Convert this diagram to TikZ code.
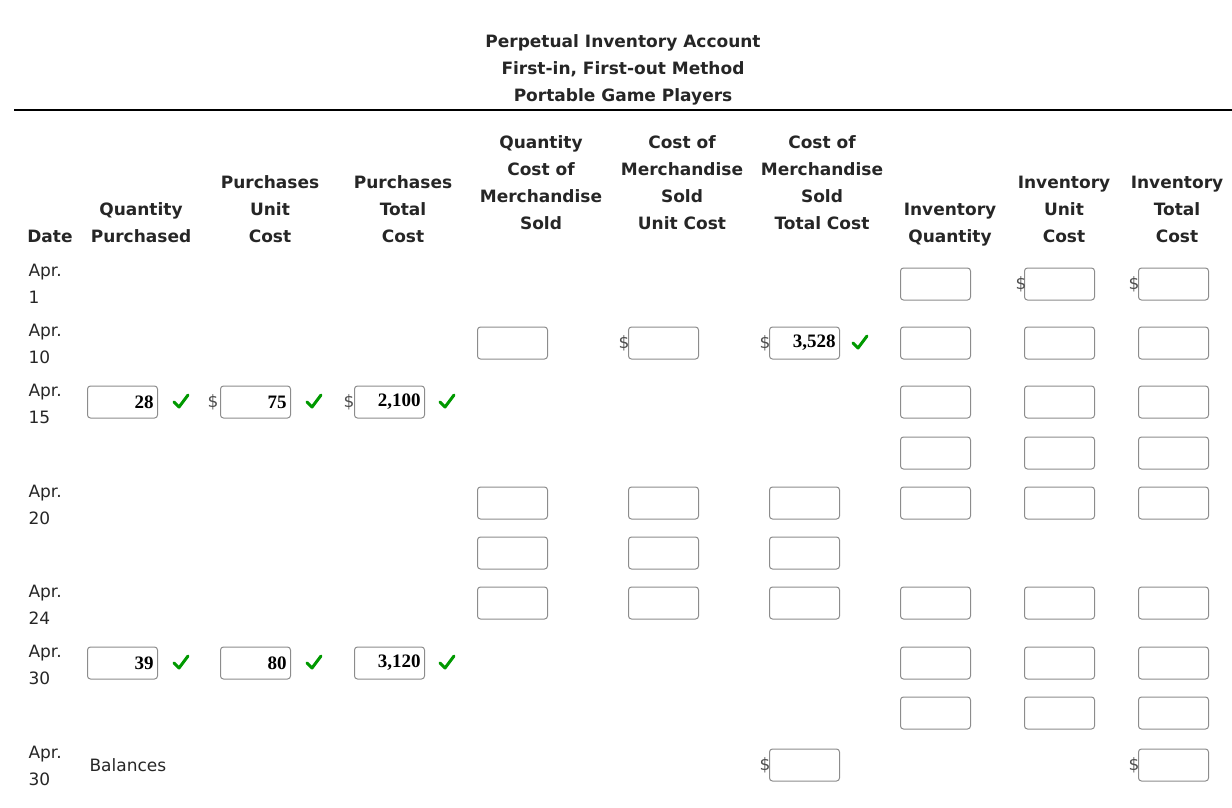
\documentclass[tikz,border=0pt]{standalone}
\usepackage{fontspec}
\setmainfont{DejaVu Sans}
\newfontfamily\numfont{Liberation Serif}
\begin{document}
\begin{tikzpicture}[x=1pt,y=-1pt,
  hd/.style={font=\fontsize{17}{20}\selectfont\bfseries,color=black!85,align=center,anchor=base},
  lb/.style={font=\fontsize{17}{20}\selectfont,color=black!85,anchor=base west},
  ibox/.style={draw=black!45,line width=1pt,rounded corners=3pt,minimum width=70,minimum height=32,inner sep=0,font=\numfont\bfseries\fontsize{19}{22}\selectfont,align=right},
  dol/.style={font=\fontsize{17}{20}\selectfont,color=black!70},
  ok/.style={draw=green!60!black,line width=3pt,line cap=round,line join=round}]
\useasboundingbox (0,0) rectangle (1232,807);
\node[hd] (t1) at (623,47) {Perpetual Inventory Account};
\node[hd] (t2) at (623,74) {First-in, First-out Method};
\node[hd] (t3) at (623,101) {Portable Game Players};
\coordinate (l1) at (14,110); \coordinate (l2) at (1232,110);
\draw[line width=2.5pt] (l1) -- (l2);
% headers
\node[hd] (hdate) at (50,242) {Date};
\node[hd] (h1a) at (141,215) {Quantity}; \node[hd] (h1b) at (141,242) {Purchased};
\foreach \x/\n/\w in {270/h2/Unit,403/h3/Total,1064/h8/Unit,1177/h9/Total}{
  \node[hd] (\n b) at (\x,215) {\w}; \node[hd] (\n c) at (\x,242) {Cost};}
\node[hd] (h2a) at (270,188) {Purchases}; \node[hd] (h3a) at (403,188) {Purchases};
\node[hd] (h8a) at (1064,188) {Inventory}; \node[hd] (h9a) at (1177,188) {Inventory};
\node[hd] (h4a) at (541,148) {Quantity}; \node[hd] (h4b) at (541,175) {Cost of};
\node[hd] (h4c) at (541,202) {Merchandise}; \node[hd] (h4d) at (541,229) {Sold};
\node[hd] (h5a) at (682,148) {Cost of}; \node[hd] (h5b) at (682,175) {Merchandise};
\node[hd] (h5c) at (682,202) {Sold}; \node[hd] (h5d) at (682,229) {Unit Cost};
\node[hd] (h6a) at (822,148) {Cost of}; \node[hd] (h6b) at (822,175) {Merchandise};
\node[hd] (h6c) at (822,202) {Sold}; \node[hd] (h6d) at (822,229) {Total Cost};
\node[hd] (h7a) at (950,215) {Inventory}; \node[hd] (h7b) at (950,242) {Quantity};
% row labels
\foreach \y/\d/\n in {270/1/r1,330/10/r2,390/15/r3,491/20/r4,591/24/r5,651/30/r6,752/30/r7}{
  \node[lb] (\n a) at (25,\y+6) {Apr.}; \node[lb] (\n b) at (25,\y+33) {\d};}
\node[lb] (bal) at (86,771) {Balances};
% boxes: column x centers
\def\ca{122.5}\def\cb{255.5}\def\cc{389.5}\def\cd{512.5}\def\ce{663.5}\def\cf{804.5}\def\cg{935.5}\def\ch{1059.5}\def\ci{1173.5}
\foreach \x/\y/\n in {\cg/284/a1,\ch/284/a2,\ci/284/a3,
  \cd/343/b1,\ce/343/b2,\cg/343/b4,\ch/343/b5,\ci/343/b6,
  \cg/402/c1,\ch/402/c2,\ci/402/c3,\cg/453/c4,\ch/453/c5,\ci/453/c6,
  \cd/503/d1,\ce/503/d2,\cf/503/d3,\cg/503/d4,\ch/503/d5,\ci/503/d6,
  \cd/553/d7,\ce/553/d8,\cf/553/d9,
  \cd/603/e1,\ce/603/e2,\cf/603/e3,\cg/603/e4,\ch/603/e5,\ci/603/e6,
  \cg/663/f4,\ch/663/f5,\ci/663/f6,\cg/713/f7,\ch/713/f8,\ci/713/f9,
  \cf/765/g1,\ci/765/g2}{
  \node[ibox] (\n) at (\x,\y) {};}
\foreach \x/\y/\n/\v in {\cf/343/b3/{3,528},\ca/402/p1/28,\cb/402/p2/75,\cc/402/p3/{2,100},
  \ca/663/q1/39,\cb/663/q2/80,\cc/663/q3/{3,120}}{
  \node[ibox,text width=62] (\n) at (\x,\y) {\v};}
% dollar signs
\foreach \n/\x/\y in {s1/1021/284,s2/1134/284,s3/624/343,s4/765/343,s5/213/402,s6/349/402,s7/765/765,s8/1134/765}{
  \node[dol] (\n) at (\x,\y) {\$};}
% checks
\foreach \x/\y in {181/402,314/402,447/402,860/343,181/663,314/663,447/663}{
  \draw[ok] (\x-7,\y) -- (\x-2,\y+5) -- (\x+7,\y-7);}
\end{tikzpicture}
\end{document}
